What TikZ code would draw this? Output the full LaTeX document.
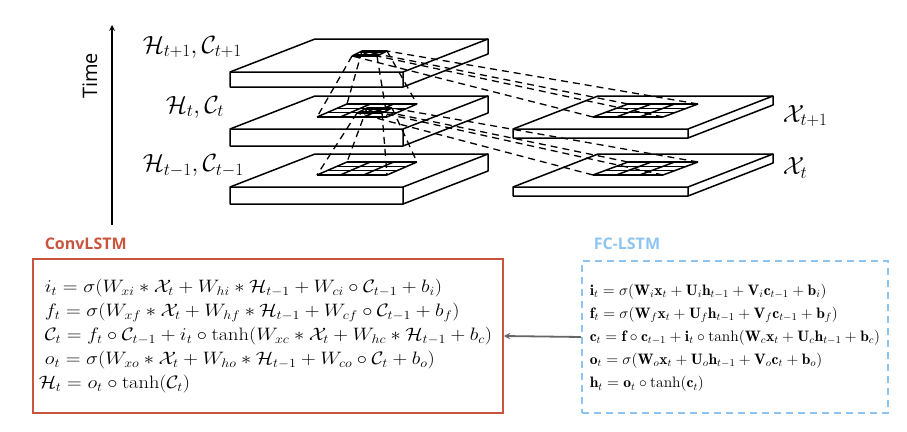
\documentclass[tikz,border=0pt]{standalone}
\usepackage{amsmath}
\usepackage{fontspec}
\setsansfont{Open Sans}
\begin{document}
\begin{tikzpicture}[x=1pt,y=-1pt,line width=1.5pt,
  dsh/.style={dashed,dash pattern=on 7pt off 5pt,line width=1.3pt},
  lab/.style={font=\fontsize{25}{28}\selectfont,inner sep=0pt}]
\useasboundingbox (0,0) rectangle (907,431);
\newcommand\myslab[5]{% x y w thick
  \filldraw[fill=white,line join=round] (#1,#2) -- ++(85,-33) -- ++(#3,0) -- ++(0,#4) -- ++(-85,33) -- ++(-#3,0) -- cycle;
  \draw (#1,#2) -- ++(#3,0) -- ++(85,-33) (#1+#3,#2) -- ++(0,#4);}
\newcommand\mygrid[5]{% x y w dx dy
  \foreach \i in {0,1,2,3}{
    \draw ({#1+#3*\i/3},#2) -- ++(#4,-#5);
    \draw ({#1+#4*\i/3},{#2-#5*\i/3}) -- ++(#3,0);}}
% time axis
\coordinate (t0) at (112,225); \coordinate (t1) at (112,25);
\draw[-stealth,line width=1.6pt] (t0) -- (t1);
\node[rotate=90,font=\sffamily\fontsize{20}{22}\selectfont] (time) at (90,76) {Time};
% slabs
\myslab{230}{187}{173}{17}{}
\myslab{513}{187}{175}{9}{}
\myslab{513}{129}{175}{9}{}
\myslab{230}{129}{173}{17}{}
\myslab{230}{72}{173}{15}{}
% grids
\mygrid{317}{175}{70}{30}{13}
\mygrid{317}{117}{70}{30}{13}
\mygrid{593}{175}{70}{35}{13}
\mygrid{593}{117}{70}{35}{13}
\mygrid{352}{56}{25}{10}{5}
\mygrid{357}{113}{25}{10}{5}
% cone lines
\draw[dsh] (352,56) -- (317,117) (377,56) -- (387,117) (362,51) -- (347,104) (387,51) -- (417,104);
\draw[dsh] (357,113) -- (317,175) (382,113) -- (387,175) (367,108) -- (347,162) (392,108) -- (417,162);
% right-to-left lines
\draw[dsh] (593,117) -- (352,56) (663,117) -- (377,56) (628,104) -- (362,51) (698,104) -- (387,51);
\draw[dsh] (593,175) -- (357,113) (663,175) -- (382,113) (628,162) -- (367,108) (698,162) -- (392,108);
% labels
\node[lab,anchor=west] (l1) at (142,47) {$\mathcal{H}_{t+1},\mathcal{C}_{t+1}$};
\node[lab,anchor=west] (l2) at (165,107) {$\mathcal{H}_{t},\mathcal{C}_{t}$};
\node[lab,anchor=west] (l3) at (142,166) {$\mathcal{H}_{t-1},\mathcal{C}_{t-1}$};
\node[lab,anchor=west] (x1) at (782,116) {$\mathcal{X}_{t+1}$};
\node[lab,anchor=west] (x2) at (782,168) {$\mathcal{X}_{t}$};
% boxes
\definecolor{cred}{HTML}{C9553F}
\definecolor{cblue}{HTML}{8EC5F0}
\node[draw=cred,line width=1.6pt,minimum width=470pt,minimum height=154pt,inner sep=0pt] (conv) at (268,336) {};
\node[draw=cblue,line width=1.6pt,dash pattern=on 7pt off 5pt,minimum width=306pt,minimum height=152pt,inner sep=0pt] (fc) at (735,337) {};
\node[anchor=west,text=cred,font=\sffamily\bfseries\fontsize{16}{18}\selectfont,inner sep=0pt] (ct) at (44,244) {ConvLSTM};
\node[anchor=west,text=cblue,font=\sffamily\bfseries\fontsize{16}{18}\selectfont,inner sep=0pt] (ft) at (593,244) {FC-LSTM};
\node[anchor=west,inner sep=0pt] (ceq) at (38,336) {\scalebox{1.18}[1.04]{\fontsize{17.28}{23}\selectfont
\begin{tabular}{@{}l@{}}
\ $i_t=\sigma(W_{xi}*\mathcal{X}_t+W_{hi}*\mathcal{H}_{t-1}+W_{ci}\circ\mathcal{C}_{t-1}+b_i)$\\
\ $f_t=\sigma(W_{xf}*\mathcal{X}_t+W_{hf}*\mathcal{H}_{t-1}+W_{cf}\circ\mathcal{C}_{t-1}+b_f)$\\
\ $\mathcal{C}_t=f_t\circ\mathcal{C}_{t-1}+i_t\circ\tanh(W_{xc}*\mathcal{X}_t+W_{hc}*\mathcal{H}_{t-1}+b_c)$\\
\ $o_t=\sigma(W_{xo}*\mathcal{X}_t+W_{ho}*\mathcal{H}_{t-1}+W_{co}\circ\mathcal{C}_t+b_o)$\\
$\mathcal{H}_t=o_t\circ\tanh(\mathcal{C}_t)$
\end{tabular}}};
\node[anchor=west,inner sep=0pt] (feq) at (589,337) {\scalebox{1.08}[1.05]{\fontsize{14.4}{22}\selectfont
\begin{tabular}{@{}l@{}}
$\mathbf{i}_t=\sigma(\mathbf{W}_i\mathbf{x}_t+\mathbf{U}_i\mathbf{h}_{t-1}+\mathbf{V}_i\mathbf{c}_{t-1}+\mathbf{b}_i)$\\
$\mathbf{f}_t=\sigma(\mathbf{W}_f\mathbf{x}_t+\mathbf{U}_f\mathbf{h}_{t-1}+\mathbf{V}_f\mathbf{c}_{t-1}+\mathbf{b}_f)$\\
$\mathbf{c}_t=\mathbf{f}\circ\mathbf{c}_{t-1}+\mathbf{i}_t\circ\tanh(\mathbf{W}_c\mathbf{x}_t+\mathbf{U}_c\mathbf{h}_{t-1}+\mathbf{b}_c)$\\
$\mathbf{o}_t=\sigma(\mathbf{W}_o\mathbf{x}_t+\mathbf{U}_o\mathbf{h}_{t-1}+\mathbf{V}_o\mathbf{c}_t+\mathbf{b}_o)$\\
$\mathbf{h}_t=\mathbf{o}_t\circ\tanh(\mathbf{c}_t)$
\end{tabular}}};
\draw[-stealth,draw=gray!80!black,line width=1.8pt] (fc.west) -- (conv.east);
\end{tikzpicture}
\end{document}
